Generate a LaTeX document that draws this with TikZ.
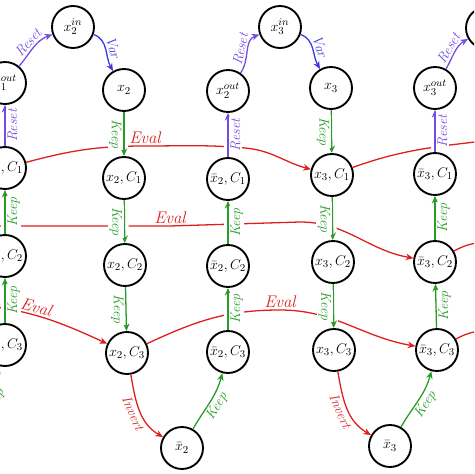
\documentclass[tikz,border=0pt]{standalone}
\usepackage{amsmath}
\usetikzlibrary{arrows.meta}
\definecolor{evalred}{RGB}{222,30,30}
\definecolor{keepgreen}{RGB}{40,155,40}
\definecolor{resetviolet}{RGB}{115,75,225}
\definecolor{varblue}{RGB}{65,55,220}

\begin{document}
\begin{tikzpicture}[x=0.03cm, y=0.03cm,
    vertex/.style={draw, circle, line width=1.6pt, minimum size=1.26cm, inner sep=0pt,
      font=\fontsize{13}{15}\selectfont},
    arr/.style={line width=1.1pt, -{Stealth[length=6.5pt, width=5.5pt]}},
    gap/.style={preaction={draw=white, line width=7pt, arrows=-, shorten >=3pt, shorten <=3pt}},
    keepedge/.style={arr, keepgreen},
    resetedge/.style={arr, resetviolet},
    varedge/.style={arr, varblue},
    evaledge/.style={arr, evalred},
    lbl/.style={font=\large\itshape, inner sep=1.5pt},
    evallbl/.style={font=\Large\itshape, inner sep=1.5pt},
    vlbl/.style={lbl, fill=white, anchor=north, midway},
  ]
  \useasboundingbox (0,0) rectangle (474,474);
  \clip (0,0) rectangle (474,474);

  % variable gadgets
  \node[vertex] (x1out) at (5,391) {$x_1^{out}$};
  \node[vertex] (x2in) at (73,447) {$x_2^{in}$};
  \node[vertex] (x2) at (124,384) {$x_2$};
  \node[vertex] (x2out) at (228,383) {$x_2^{out}$};
  \node[vertex] (x3in) at (280,447) {$x_3^{in}$};
  \node[vertex] (x3) at (331,386) {$x_3$};
  \node[vertex] (x3out) at (435,386) {$x_3^{out}$};
  \node[vertex] (x4in) at (487,446) {$x_4^{in}$};

  % clause nodes
  \node[vertex] (b1c1) at (5,306) {$\bar{x}_1, C_1$};
  \node[vertex] (b1c2) at (5,218) {$\bar{x}_1, C_2$};
  \node[vertex] (b1c3) at (5,129) {$\bar{x}_1, C_3$};
  \node[vertex] (b1) at (-41,26) {$\bar{x}_1$};
  \node[vertex] (x2c1) at (124,296) {$x_2, C_1$};
  \node[vertex] (x2c2) at (125,209) {$x_2, C_2$};
  \node[vertex] (x2c3) at (127,121) {$x_2, C_3$};
  \node[vertex] (b2c1) at (228,295) {$\bar{x}_2, C_1$};
  \node[vertex] (b2c2) at (228,208) {$\bar{x}_2, C_2$};
  \node[vertex] (b2c3) at (228,122) {$\bar{x}_2, C_3$};
  \node[vertex] (b2) at (182,26) {$\bar{x}_2$};
  \node[vertex] (x3c1) at (332,299) {$x_3, C_1$};
  \node[vertex] (x3c2) at (333,212) {$x_3, C_2$};
  \node[vertex] (x3c3) at (334,124) {$x_3, C_3$};
  \node[vertex] (b3c1) at (435,300) {$\bar{x}_3, C_1$};
  \node[vertex] (b3c2) at (435,212) {$\bar{x}_3, C_2$};
  \node[vertex] (b3c3) at (437,124) {$\bar{x}_3, C_3$};
  \node[vertex] (b3) at (390,28) {$\bar{x}_3$};

  % loose ends outside the frame
  \coordinate (e1r) at (530,340);
  \coordinate (e2l) at (-40,248);
  \coordinate (e2r) at (530,236);
  \coordinate (e3l) at (-30,170);
  \coordinate (e3r) at (530,150);

  % Eval
  \draw[evaledge] (b1c1) to[out=15,in=180] (145,328) node[evallbl, above]{Eval}
    to[out=0,in=175] (245,326) to[out=-5,in=165] (x3c1);
  \draw[evaledge] (x3c1) to[out=20,in=190] (e1r);
  \draw[evaledge] (e2l) -- (170,248) node[evallbl, above]{Eval} -- (300,252)
    to[out=0,in=170] (b3c2);
  \draw[evaledge] (b3c2) to[out=30,in=195] (e2r);
  \draw[evaledge] (e3l) to[out=-5,in=155] node[evallbl, sloped, above, pos=0.45]{Eval} (x2c3);
  \draw[evaledge] (x2c3) to[out=25,in=180] (280,164) node[evallbl, above]{Eval}
    to[out=0,in=170] (b3c3);
  \draw[evaledge] (b3c3) to[out=30,in=200] (e3r);

  % Reset and Var
  \draw[resetedge] (x1out) to[out=50,in=200] node[lbl, sloped, above]{Reset} (x2in);
  \draw[varedge] (x2in) to[out=-20,in=120] node[lbl, sloped, above]{Var} (x2);
  \draw[resetedge] (x2out) to[out=55,in=200] node[lbl, sloped, above]{Reset} (x3in);
  \draw[varedge] (x3in) to[out=-20,in=120] node[lbl, sloped, above]{Var} (x3);
  \draw[resetedge] (x3out) to[out=60,in=210] node[lbl, sloped, above]{Reset} (x4in);

  % column of x1 bar
  \draw[keepedge] (b1) to[out=60,in=-105] node[lbl, sloped, below]{Keep} (b1c3);
  \draw[keepedge, gap] (b1c3) -- node[vlbl, rotate=90]{Keep} (b1c2);
  \draw[keepedge, gap] (b1c2) -- node[vlbl, rotate=90]{Keep} (b1c1);
  \draw[resetedge, gap] (b1c1) -- node[vlbl, rotate=90]{Reset} (x1out);

  % column of x2
  \draw[keepedge, gap] (x2) -- node[vlbl, rotate=-90]{Keep} (x2c1);
  \draw[keepedge, gap] (x2c1) -- node[vlbl, rotate=-90]{Keep} (x2c2);
  \draw[keepedge, gap] (x2c2) -- node[vlbl, rotate=-90]{Keep} (x2c3);
  \draw[evaledge] (x2c3) to[out=-80,in=150] node[lbl, sloped, below]{Invert} (b2);
  \draw[keepedge] (b2) to[out=60,in=-105] node[lbl, sloped, below]{Keep} (b2c3);
  \draw[keepedge, gap] (b2c3) -- node[vlbl, rotate=90]{Keep} (b2c2);
  \draw[keepedge, gap] (b2c2) -- node[vlbl, rotate=90]{Keep} (b2c1);
  \draw[resetedge, gap] (b2c1) -- node[vlbl, rotate=90]{Reset} (x2out);

  % column of x3
  \draw[keepedge, gap] (x3) -- node[vlbl, rotate=-90]{Keep} (x3c1);
  \draw[keepedge, gap] (x3c1) -- node[vlbl, rotate=-90]{Keep} (x3c2);
  \draw[keepedge, gap] (x3c2) -- node[vlbl, rotate=-90]{Keep} (x3c3);
  \draw[evaledge] (x3c3) to[out=-80,in=150] node[lbl, sloped, below]{Invert} (b3);
  \draw[keepedge] (b3) to[out=60,in=-105] node[lbl, sloped, below]{Keep} (b3c3);
  \draw[keepedge, gap] (b3c3) -- node[vlbl, rotate=90]{Keep} (b3c2);
  \draw[keepedge, gap] (b3c2) -- node[vlbl, rotate=90]{Keep} (b3c1);
  \draw[resetedge, gap] (b3c1) -- node[vlbl, rotate=90]{Reset} (x3out);
\end{tikzpicture}
\end{document}
